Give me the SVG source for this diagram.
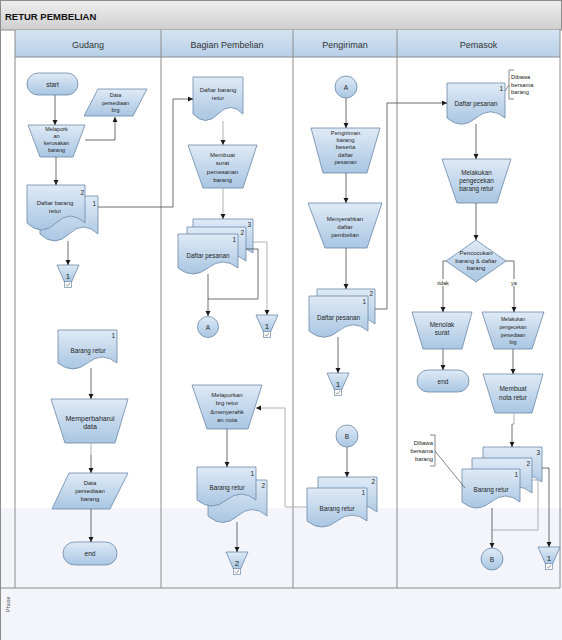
<svg xmlns="http://www.w3.org/2000/svg" xmlns:xlink="http://www.w3.org/1999/xlink" width="562" height="640" viewBox="0 0 562 640">
<style>
.s{fill:url(#g);stroke:#6b88a8;stroke-width:0.8}
.t{font-family:"Liberation Sans",Arial,sans-serif;fill:#1f1f1f;text-anchor:middle}
.n{font-family:"Liberation Sans",Arial,sans-serif;fill:#1f1f1f;text-anchor:end;font-size:6.5px}
.c{fill:none;stroke:#4a4a4a;stroke-width:0.8}
.cl{fill:none;stroke:#a8a8a8;stroke-width:0.9}
.a{marker-end:url(#ar)}
.lane{fill:none;stroke:#8c8c8c;stroke-width:1}
</style>
<defs>
<linearGradient id="g" x1="0" y1="0" x2="0" y2="1"><stop offset="0" stop-color="#dfeaf6"/><stop offset="1" stop-color="#a9c6e2"/></linearGradient>
<linearGradient id="hg" x1="0" y1="0" x2="0" y2="1"><stop offset="0" stop-color="#d5e4f2"/><stop offset="1" stop-color="#b7cfe7"/></linearGradient>
<linearGradient id="tg" x1="0" y1="0" x2="0" y2="1"><stop offset="0" stop-color="#eeeeee"/><stop offset="1" stop-color="#cfcfcf"/></linearGradient>
<marker id="ar" markerWidth="6" markerHeight="6" refX="5" refY="2.5" orient="auto" markerUnits="userSpaceOnUse"><path d="M0,0 L5,2.5 L0,5 z" fill="#1a1a1a"/></marker>
<g id="op"><polygon class="s" points="-11,0 11,0 3.5,17 -3.5,17"/><rect x="-3.5" y="16.5" width="7" height="6" fill="#fff" stroke="#6b88a8" stroke-width="0.7"/><path d="M-2,19.5 l1.5,1.7 l2.5,-3.4" fill="none" stroke="#555" stroke-width="0.6"/></g>
</defs>

<!-- background -->
<rect x="0" y="0" width="562" height="640" fill="#ffffff"/>
<rect x="0" y="508" width="562" height="132" fill="#f4f5fb"/>
<rect x="0.5" y="0.5" width="561" height="29.5" fill="url(#tg)" stroke="#8c8c8c"/>
<text x="5" y="19.5" style="font-family:'Liberation Sans',Arial,sans-serif;font-weight:bold;font-size:9.5px;fill:#111">RETUR PEMBELIAN</text>
<rect x="15" y="30" width="545" height="27" fill="url(#hg)"/>
<g id="lanes">
<path class="lane" d="M15,30 V588 M161,30 V588 M293,30 V588 M397,30 V588 M560,30 V588 M15,57 H560 M0,588 H560 M0.5,30 V640"/>
</g>
<g id="headers" class="t" style="font-size:9px;fill:#333">
<text x="88" y="48">Gudang</text>
<text x="227" y="48">Bagian Pembelian</text>
<text x="345" y="48">Pengiriman</text>
<text x="478.5" y="48">Pemasok</text>
</g>
<text transform="translate(10,612) rotate(-90)" style="font-family:'Liberation Sans',Arial,sans-serif;font-size:5.5px;fill:#555">Phase</text>

<!-- Gudang -->
<g id="g-start"><rect class="s" x="27" y="73" width="51" height="22" rx="11"/><text class="t" x="52.5" y="86.5" style="font-size:6.5px">start</text></g>
<g id="g-data1"><polygon class="s" points="98,89 147,89 133,116 84,116"/><text class="t" style="font-size:5.5px"><tspan x="115.5" y="97">Data</tspan><tspan x="115.5" y="105">persediaan</tspan><tspan x="115.5" y="112">brg</tspan></text></g>
<g id="g-lapor"><polygon class="s" points="28,125 85,125 73,157 40,157"/><text class="t" style="font-size:5.5px"><tspan x="56.5" y="131">Melapork</tspan><tspan x="56.5" y="138">an</tspan><tspan x="56.5" y="145">kerusakan</tspan><tspan x="56.5" y="152">barang</tspan></text></g>
<g id="g-dbr"><path class="s" d="M40,196 H98 V234 Q83.5,220 69,234 T40,234 Z"/><path class="s" d="M27,185 H85 V223 Q70.5,209 56,223 T27,223 Z"/><text class="n" x="84" y="195">2</text><text class="n" x="96" y="206">1</text><text class="t" style="font-size:6px"><tspan x="55" y="205">Daftar barang</tspan><tspan x="55" y="213">retur</tspan></text></g>
<g id="g-op1"><use href="#op" transform="translate(68,265)"/><text class="t" x="68" y="279" style="font-size:8px">1</text></g>
<g id="g-br"><path class="s" d="M58,330 H117 V363 Q102.25,351 87.5,363 T58,363 Z"/><text class="n" x="115" y="338">1</text><text class="t" x="88" y="353" style="font-size:6.3px">Barang retur</text></g>
<g id="g-update"><polygon class="s" points="51,399 128,399 115,443 65,443"/><text class="t" style="font-size:7px"><tspan x="90" y="420.5">Memperbaharui</tspan><tspan x="90" y="428.5">data</tspan></text></g>
<g id="g-data2"><polygon class="s" points="69,473 128,473 110,509 52,509"/><text class="t" style="font-size:6px"><tspan x="90" y="485">Data</tspan><tspan x="90" y="493">persediaan</tspan><tspan x="90" y="500.5">barang</tspan></text></g>
<g id="g-end"><rect class="s" x="63" y="542" width="54" height="23" rx="11.5"/><text class="t" x="90" y="556" style="font-size:6.5px">end</text></g>

<!-- Bagian Pembelian -->
<g id="b-dbr"><path class="s" d="M193,77 H243 V114 Q230.5,101 218,114 T193,114 Z"/><text class="t" style="font-size:6px"><tspan x="218" y="92">Daftar barang</tspan><tspan x="218" y="100">retur</tspan></text></g>
<g id="b-buat"><polygon class="s" points="188,145 257,145 243,188 203,188"/><text class="t" style="font-size:6px"><tspan x="222.5" y="157">Membuat</tspan><tspan x="222.5" y="165">surat</tspan><tspan x="222.5" y="174">pemesanan</tspan><tspan x="222.5" y="181.5">barang</tspan></text></g>
<g id="b-dp"><path class="s" d="M193,219 H253 V253 Q238,241 223,253 T193,253 Z"/><path class="s" d="M187,227 H246 V261 Q231.25,249 216.5,261 T187,261 Z"/><path class="s" d="M178,234 H238 V268 Q223,256 208,268 T178,268 Z"/><text class="n" x="251" y="227">3</text><text class="n" x="244" y="235">2</text><text class="n" x="236" y="242">1</text><text class="t" x="208" y="258" style="font-size:6.3px">Daftar pesanan</text></g>
<g id="b-A"><circle class="s" cx="208" cy="327" r="10.5"/><text class="t" x="208" y="329.5" style="font-size:6.5px">A</text></g>
<g id="b-op1"><use href="#op" transform="translate(267,315)"/><text class="t" x="267" y="329" style="font-size:8px">1</text></g>
<g id="b-lapor"><polygon class="s" points="192,385 262,385 248,429 207,429"/><text class="t" style="font-size:6px"><tspan x="227" y="397">Melaporkan</tspan><tspan x="227" y="405">brg retur</tspan><tspan x="227" y="414">&amp;menyerahk</tspan><tspan x="227" y="421.5">an nota</tspan></text></g>
<g id="b-br"><path class="s" d="M208,480 H267 V516 Q252.25,503 237.5,516 T208,516 Z"/><path class="s" d="M197,467 H256 V500 Q241.25,488 226.5,500 T197,500 Z"/><text class="n" x="254" y="476">1</text><text class="n" x="265" y="488">2</text><text class="t" x="227" y="490" style="font-size:6.3px">Barang retur</text></g>
<g id="b-op2"><use href="#op" transform="translate(237,552)"/><text class="t" x="237" y="566" style="font-size:8px">2</text></g>

<!-- Pengiriman -->
<g id="p-A"><circle class="s" cx="346" cy="87" r="11"/><text class="t" x="346" y="89.5" style="font-size:6.5px">A</text></g>
<g id="p-kirim"><polygon class="s" points="311,128 380,128 367,173 323,173"/><text class="t" style="font-size:5.8px"><tspan x="345.5" y="135">Pengiriman</tspan><tspan x="345.5" y="142">barang</tspan><tspan x="345.5" y="149">beserta</tspan><tspan x="345.5" y="156.5">daftar</tspan><tspan x="345.5" y="164">pesanan</tspan></text></g>
<g id="p-serah"><polygon class="s" points="308,203 382,203 367,248 325,248"/><text class="t" style="font-size:6px"><tspan x="345" y="221">Menyerahkan</tspan><tspan x="345" y="229">daftar</tspan><tspan x="345" y="236.5">pembelian</tspan></text></g>
<g id="p-dp"><path class="s" d="M317,289 H375 V324 Q360.5,311.5 346,324 T317,324 Z"/><path class="s" d="M309,296 H368 V331 Q353.25,318.5 338.5,331 T309,331 Z"/><text class="n" x="373" y="296">2</text><text class="n" x="366" y="304">1</text><text class="t" x="338.5" y="320" style="font-size:6.3px">Daftar pesanan</text></g>
<g id="p-op1"><use href="#op" transform="translate(338,373)"/><text class="t" x="338" y="387" style="font-size:8px">1</text></g>
<g id="p-B"><circle class="s" cx="347" cy="436" r="11"/><text class="t" x="347" y="438.5" style="font-size:6.5px">B</text></g>
<g id="p-br"><path class="s" d="M318,477 H377 V512 Q362.25,499.5 347.5,512 T318,512 Z"/><path class="s" d="M307,488 H367 V521 Q352,509 337,521 T307,521 Z"/><text class="n" x="375" y="484">2</text><text class="n" x="365" y="495">1</text><text class="t" x="337" y="511" style="font-size:6.3px">Barang retur</text></g>

<!-- Pemasok -->
<g id="m-dp"><path class="s" d="M447,83 H505 V118 Q490.5,105.5 476,118 T447,118 Z"/><text class="n" x="503" y="91">1</text><text class="t" x="476" y="106" style="font-size:6.3px">Daftar pesanan</text></g>
<g id="m-note1"><path d="M514,70 H509 V99 H514 M509,85 L505,91" fill="none" stroke="#555" stroke-width="0.7"/><text style="font-family:'Liberation Sans',Arial,sans-serif;font-size:5.8px;fill:#222"><tspan x="511" y="79">Dibawa</tspan><tspan x="511" y="86.5">bersama</tspan><tspan x="511" y="94">barang</tspan></text></g>
<g id="m-cek"><polygon class="s" points="442,159 511,159 497,203 457,203"/><text class="t" style="font-size:6.3px"><tspan x="476.5" y="175">Melakukan</tspan><tspan x="476.5" y="183">pengecekan</tspan><tspan x="476.5" y="191">barang retur</tspan></text></g>
<g id="m-dec"><polygon class="s" points="476,240 506,261 476,282 446,261"/><text class="t" style="font-size:6px"><tspan x="476" y="255">Pencocokan</tspan><tspan x="476" y="263">barang &amp; daftar</tspan><tspan x="476" y="270">barang</tspan></text></g>
<g id="m-tolak"><polygon class="s" points="412,312 472,312 462,349 423,349"/><text class="t" style="font-size:6.5px"><tspan x="442" y="327">Menolak</tspan><tspan x="442" y="335">surat</tspan></text></g>
<g id="m-cek2"><polygon class="s" points="482,312 544,312 532,349 494,349"/><text class="t" style="font-size:5px"><tspan x="513" y="321">Melakukan</tspan><tspan x="513" y="329">pengecekan</tspan><tspan x="513" y="337">persediaan</tspan><tspan x="513" y="344">brg</tspan></text></g>
<g id="m-end"><rect class="s" x="417" y="370" width="52" height="22" rx="11"/><text class="t" x="443" y="383.5" style="font-size:6.5px">end</text></g>
<g id="m-nota"><polygon class="s" points="483,374 543,374 532,413 495,413"/><text class="t" style="font-size:6.5px"><tspan x="513" y="391">Membuat</tspan><tspan x="513" y="399.5">nota retur</tspan></text></g>
<g id="m-br"><path class="s" d="M483,447 H542 V482 Q527.25,469.5 512.5,482 T483,482 Z"/><path class="s" d="M472,458 H532 V493 Q517,480.5 502,493 T472,493 Z"/><path class="s" d="M462,469 H520 V502 Q505.5,490 491,502 T462,502 Z"/><text class="n" x="540" y="455">3</text><text class="n" x="530" y="466">2</text><text class="n" x="518" y="477">1</text><text class="t" x="491" y="492" style="font-size:6.3px">Barang retur</text></g>
<g id="m-note2"><path d="M430,435 H435 V466 H430 M435,451 L465,488" fill="none" stroke="#555" stroke-width="0.7"/><text style="font-family:'Liberation Sans',Arial,sans-serif;font-size:5.8px;fill:#222;text-anchor:end"><tspan x="433" y="445">Dibawa</tspan><tspan x="433" y="453">bersama</tspan><tspan x="433" y="461">barang</tspan></text></g>
<g id="m-B"><circle class="s" cx="492" cy="559" r="11"/><text class="t" x="492" y="561.5" style="font-size:6.5px">B</text></g>
<g id="m-op1"><use href="#op" transform="translate(549,547)"/><text class="t" x="549" y="561" style="font-size:8px">1</text></g>

<!-- connectors -->
<g id="connectors">
<path class="c a" d="M55,95 V125"/>
<path class="c a" d="M85,140 H115 V117"/>
<path class="c a" d="M56,157 V185"/>
<path class="c a" d="M98,207 H173 V99 H193"/>
<path class="c a" d="M68,241 V265"/>
<path class="c a" d="M91,368 V399"/>
<path class="cl" d="M91,443 V455"/><path class="c a" d="M91,455 V473"/>
<path class="c a" d="M91,509 V542"/>
<path class="cl a" d="M223,121 V145"/>
<path class="cl a" d="M223,188 V219"/>
<path class="c a" d="M208,274 V316"/>
<path class="c" d="M246,249 H258 V299 H208"/>
<path class="cl a" d="M253,242 H267 V315"/>
<path class="c a" d="M227,429 V467"/>
<path class="c a" d="M237,522 V552"/>
<path class="c a" d="M346,98 V128"/>
<path class="c a" d="M346,173 V203"/>
<path class="c a" d="M346,248 V289"/>
<path class="c a" d="M375,309 H387 V103 H447"/>
<path class="c a" d="M338,337 V373"/>
<path class="c a" d="M347,447 V477"/>
<path class="cl a" d="M307,507 H285 V408 H256"/>
<path class="c a" d="M476,124 V159"/>
<path class="c a" d="M476,203 V240"/>
<path class="c a" d="M446,261 H443 V312"/>
<path class="c a" d="M506,261 H514 V312"/>
<path class="c a" d="M443,349 V370"/>
<path class="c a" d="M513,349 V374"/>
<path class="cl" d="M514,413 V424 H512"/><path class="c a" d="M512,424 V447"/>
<path class="c a" d="M492,508 V548"/>
<path class="cl" d="M532,480 H538 V530 H492"/>
<path class="c a" d="M542,468 H549 V547"/>
<rect x="435" y="279" width="16" height="7" fill="#fff"/>
<text class="t" x="443" y="284.5" style="font-size:5.5px">tidak</text>
<rect x="509" y="279" width="10" height="7" fill="#fff"/>
<text class="t" x="514" y="284.5" style="font-size:5.5px">ya</text>
</g>
</svg>
